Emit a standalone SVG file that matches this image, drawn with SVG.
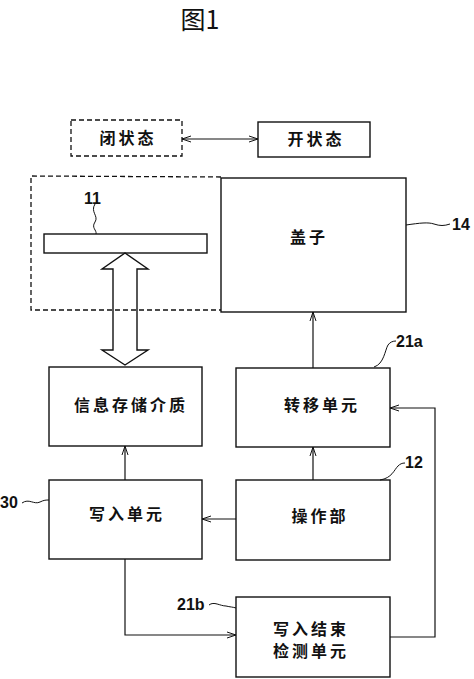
<svg xmlns="http://www.w3.org/2000/svg" width="474" height="679" viewBox="0 0 474 679">
<defs>
<marker id="ah" markerWidth="10" markerHeight="8" refX="9" refY="4" orient="auto" markerUnits="userSpaceOnUse">
<path d="M0,1 L9,4 L0,7" fill="none" stroke="#111" stroke-width="1"/>
</marker>
<marker id="ahs" markerWidth="10" markerHeight="8" refX="1" refY="4" orient="auto" markerUnits="userSpaceOnUse">
<path d="M10,1 L1,4 L10,7" fill="none" stroke="#111" stroke-width="1"/>
</marker>
</defs>
<style>
.box{fill:none;stroke:#111;stroke-width:1.4}
.dash{fill:none;stroke:#111;stroke-width:1.3;stroke-dasharray:5,3}
.t{font-family:"Noto Sans CJK SC","Noto Sans CJK JP",sans-serif;font-size:16px;font-weight:bold;fill:#111;text-anchor:middle;letter-spacing:3px}
.n{font-family:"Liberation Sans",Arial,sans-serif;font-size:16px;font-weight:bold;fill:#111}
.c{fill:none;stroke:#111;stroke-width:1.2}
.l{fill:none;stroke:#111;stroke-width:1}
</style>
<rect width="474" height="679" fill="#fff"/>
<text x="200" y="29" font-family="'Noto Sans CJK SC',serif" font-size="25" fill="#111" text-anchor="middle">图1</text>

<g id="closed"><rect class="dash" x="71" y="120" width="111" height="36"/><text class="t" x="128" y="144">闭状态</text></g>
<g id="open"><rect class="box" x="258" y="122" width="112" height="35"/><text class="t" x="316" y="145">开状态</text></g>
<g id="region"><path class="dash" d="M221,177 L31,176 L31,310 L221,310"/></g>
<g id="cover"><rect class="box" x="221" y="178" width="185" height="134"/><text class="t" x="309" y="243">盖子</text>
<path class="l" d="M406,225 C420,223 428,222 434,224 C440,226 444,226 450,224"/><text class="n" x="452" y="230">14</text></g>
<g id="bar"><rect class="box" x="44" y="234" width="163" height="19"/>
<path class="l" d="M95,204 C90,212 99,216 95,222 C91,228 97,230 96,234"/><text class="n" x="84" y="204">11</text></g>
<g id="hollow"><path class="box" d="M125,253 L148,269 L137,269 L137,350 L148,350 L125,365 L102,350 L113,350 L113,269 L102,269 Z" fill="#fff"/></g>
<g id="info"><rect class="box" x="49" y="367" width="153" height="79"/><text class="t" x="131" y="411">信息存储介质</text></g>
<g id="transfer"><rect class="box" x="236" y="368" width="154" height="79"/><text class="t" x="322" y="411">转移单元</text>
<path class="l" d="M374,367 C384,364 385,350 388,345 C390,342 393,341 396,341"/><text class="n" x="396" y="347">21a</text></g>
<g id="write"><rect class="box" x="49" y="480" width="153" height="79"/><text class="t" x="127" y="520">写入单元</text>
<path class="l" d="M22,503 C29,498 34,505 40,502 C44,500 46,500 49,500"/><text class="n" x="0" y="508">30</text></g>
<g id="op"><rect class="box" x="236" y="480" width="154" height="80"/><text class="t" x="320" y="522">操作部</text>
<path class="l" d="M380,480 C392,478 394,470 398,466 C400,464 402,463 405,463"/><text class="n" x="405" y="468">12</text></g>
<g id="detect"><rect class="box" x="236" y="597" width="154" height="80"/><text class="t" x="311" y="635">写入结束</text><text class="t" x="311" y="657">检测单元</text>
<path class="l" d="M209,605 C214,601 220,606 226,606 C230,607 233,607 236,608"/><text class="n" x="177" y="610">21b</text></g>

<g id="connectors">
<line class="c" x1="182" y1="139" x2="258" y2="139" marker-start="url(#ahs)" marker-end="url(#ah)"/>
<line class="c" x1="313" y1="368" x2="313" y2="312" marker-end="url(#ah)"/>
<line class="c" x1="125" y1="480" x2="125" y2="446" marker-end="url(#ah)"/>
<line class="c" x1="313" y1="480" x2="313" y2="447" marker-end="url(#ah)"/>
<line class="c" x1="236" y1="519" x2="202" y2="519" marker-end="url(#ah)"/>
<polyline class="c" points="125,559 125,635 236,635" marker-end="url(#ah)"/>
<polyline class="c" points="390,637 435,637 435,408 390,408" marker-end="url(#ah)"/>
</g>
</svg>
